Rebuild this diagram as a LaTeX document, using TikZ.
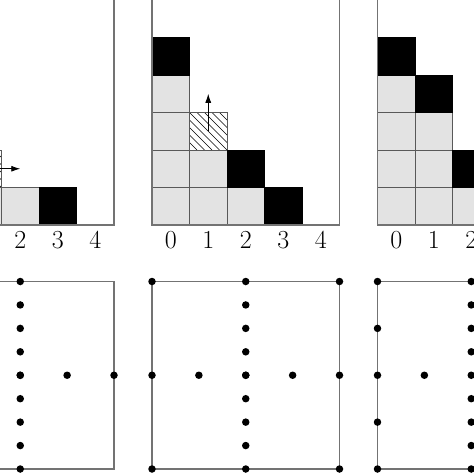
\documentclass[tikz,border=0pt]{standalone}
\usetikzlibrary{arrows.meta}
\begin{document}
\begin{tikzpicture}[x=1pt,y=-1pt]
\useasboundingbox (0,0) rectangle (474,474);
\clip (0,0) rectangle (474,474);
\def\c{37.5}
\def\by{225}
\tikzset{
  frame/.style={draw=black!55, line width=1.3pt},
  graycell/.style={fill=black!11, draw=black!65, line width=0.9pt},
  blackcell/.style={fill=black, draw=black, line width=0.9pt},
  hatchbox/.style={draw=black!65, line width=0.9pt},
  hatchline/.style={draw=black, line width=0.6pt},
  dot/.style={circle, fill=black, inner sep=0pt, minimum size=7.5pt},
  lbl/.style={font=\fontsize{26}{30}\selectfont, inner sep=0pt},
  arr/.style={-{Latex[length=9pt,width=6pt]}, line width=0.9pt}
}
\newcommand{\mycell}[4]{\path[#4] ({#1+#2*\c},{\by-#3*\c}) rectangle ({#1+(#2+1)*\c},{\by-(#3+1)*\c});}
\newcommand{\myhatch}[3]{%
  \begin{scope}
    \clip ({#1+#2*\c},{\by-#3*\c}) rectangle ({#1+(#2+1)*\c},{\by-(#3+1)*\c});
    \foreach \k in {-5,...,5}
      \draw[hatchline] ({#1+#2*\c+\k*7.5},{\by-(#3+1)*\c}) -- ++(\c,\c);
  \end{scope}
  \path[hatchbox] ({#1+#2*\c},{\by-#3*\c}) rectangle ({#1+(#2+1)*\c},{\by-(#3+1)*\c});}
\newcommand{\myframe}[1]{\draw[frame] (#1,-5) -- (#1,\by) -- ({#1+5*\c},\by) -- ({#1+5*\c},-5);}
\newcommand{\mylabels}[3]{\foreach \i in {#3} \node[lbl] (#2\i) at ({#1+(\i+0.5)*\c},240) {\i};}
% ---------- top left panel ----------
\def\xa{-73.5}
\mycell{\xa}{0}{0}{graycell}
\mycell{\xa}{1}{0}{graycell}
\mycell{\xa}{2}{0}{graycell}
\mycell{\xa}{3}{0}{blackcell}
\myhatch{\xa}{1}{1}
\myframe{\xa}
\mylabels{\xa}{la}{2,3,4}
\coordinate (ahA) at ({\xa+1.5*\c},{\by-1.5*\c});
\coordinate (atA) at ({\xa+2.5*\c},{\by-1.5*\c});
\draw[arr] (ahA) -- (atA);
% ---------- top middle panel ----------
\def\xb{152}
\foreach \j in {0,1,2,3} {\mycell{\xb}{0}{\j}{graycell}}
\mycell{\xb}{0}{4}{blackcell}
\mycell{\xb}{1}{0}{graycell}
\mycell{\xb}{1}{1}{graycell}
\myhatch{\xb}{1}{2}
\mycell{\xb}{2}{0}{graycell}
\mycell{\xb}{2}{1}{blackcell}
\mycell{\xb}{3}{0}{blackcell}
\myframe{\xb}
\mylabels{\xb}{lb}{0,...,4}
\coordinate (ahB) at ({\xb+1.5*\c},{\by-2.5*\c});
\coordinate (atB) at ({\xb+1.5*\c},{\by-3.5*\c});
\draw[arr] (ahB) -- (atB);
% ---------- top right panel ----------
\def\xc{377.5}
\foreach \j in {0,1,2,3} {\mycell{\xc}{0}{\j}{graycell}}
\mycell{\xc}{0}{4}{blackcell}
\foreach \j in {0,1,2} {\mycell{\xc}{1}{\j}{graycell}}
\mycell{\xc}{1}{3}{blackcell}
\mycell{\xc}{2}{0}{graycell}
\mycell{\xc}{2}{1}{blackcell}
\myframe{\xc}
\mylabels{\xc}{lc}{0,1,2}
% ---------- bottom panels ----------
\def\ty{281.5}
\def\bt{469}
\def\my{375.25}
\foreach \x in {\xa,\xb,\xc} {
  \draw[frame] (\x,\ty) rectangle ({\x+5*\c},\bt);
}
% left
\foreach \k in {0,...,8} \node[dot] (vA\k) at ({\xa+2.5*\c},{\ty+\k*23.4375}) {};
\foreach \k in {0,...,4} \node[dot] (hA\k) at ({\xa+\k*1.25*\c},\my) {};
% middle
\foreach \k in {0,...,8} \node[dot] (vB\k) at ({\xb+2.5*\c},{\ty+\k*23.4375}) {};
\foreach \k in {0,...,4} \node[dot] (hB\k) at ({\xb+\k*1.25*\c},\my) {};
\node[dot] (cB1) at (\xb,\ty) {};
\node[dot] (cB2) at ({\xb+5*\c},\ty) {};
\node[dot] (cB3) at (\xb,\bt) {};
\node[dot] (cB4) at ({\xb+5*\c},\bt) {};
% right
\foreach \k in {0,...,8} \node[dot] (vC\k) at ({\xc+2.5*\c},{\ty+\k*23.4375}) {};
\foreach \k in {0,...,4} \node[dot] (eC\k) at (\xc,{\ty+\k*1.25*\c}) {};
\node[dot] (mC) at ({\xc+1.25*\c},\my) {};
\end{tikzpicture}
\end{document}
